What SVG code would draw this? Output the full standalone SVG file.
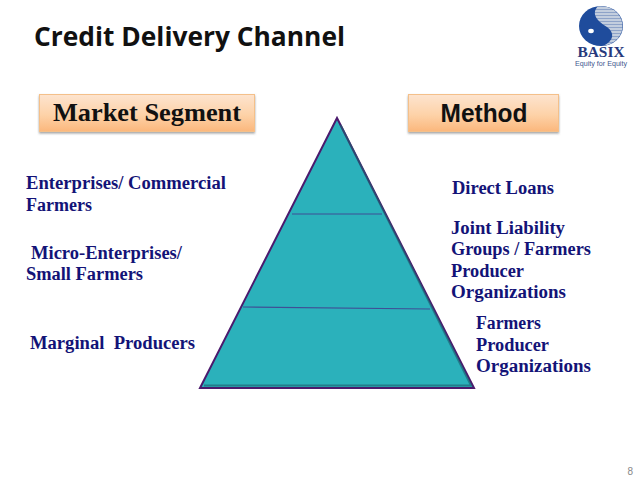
<svg xmlns="http://www.w3.org/2000/svg" width="638" height="478" viewBox="0 0 638 478">
<style>
.t{font-family:"Liberation Serif","Times New Roman",serif;font-weight:700;font-size:18px;fill:#131377}
.box{stroke:#f4c08a;stroke-width:1;filter:url(#sh)}
.div{stroke:#3f4f96;stroke-width:1.2;fill:none}
</style>
<defs>
<linearGradient id="g" x1="0" y1="0" x2="0" y2="1"><stop offset="0" stop-color="#fde4cf"/><stop offset=".55" stop-color="#fdd2a8"/><stop offset="1" stop-color="#fbb77c"/></linearGradient>
<filter id="sh" x="-5%" y="-10%" width="110%" height="130%"><feDropShadow dx="0" dy="1.5" stdDeviation="1.2" flood-color="#555" flood-opacity=".55"/></filter>
<pattern id="st" width="4" height="3" patternUnits="userSpaceOnUse"><rect width="4" height="3" fill="#c3cede"/><rect width="4" height="1" fill="#8ea3c8"/></pattern>
</defs>
<rect width="638" height="478" fill="#fff"/>
<text x="34" y="46" style="font-family:'Open Sans',Lato,sans-serif;font-weight:700;font-size:27px;fill:#111" textLength="311" lengthAdjust="spacingAndGlyphs">Credit Delivery Channel</text>
<g id="logo">
<ellipse cx="601" cy="26" rx="22" ry="20" fill="#1f4c9c"/>
<path d="M598 6.100A22 20 0 0 1 603 45.900C614 41 615 33 607 27C599 22 590 15 598 6.100Z" fill="url(#st)"/>
<ellipse cx="591" cy="31" rx="2.800" ry="2.200" fill="#fff"/>
<text x="601" y="57" text-anchor="middle" style="font-family:'Liberation Serif',serif;font-weight:700;font-size:14px;fill:#27397c" textLength="47" lengthAdjust="spacingAndGlyphs">BASIX</text>
<text x="601" y="65.500" text-anchor="middle" style="font-family:'Liberation Sans',sans-serif;font-size:7.500px;fill:#44598f" textLength="52" lengthAdjust="spacingAndGlyphs">Equity for Equity</text>
</g>
<g id="market-segment">
<rect class="box" x="39.500" y="94.500" width="215" height="37" fill="url(#g)"/>
<text x="147" y="121" text-anchor="middle" style="font-family:'Liberation Serif',serif;font-weight:700;font-size:26px;fill:#111" textLength="188" lengthAdjust="spacingAndGlyphs">Market Segment</text>
</g>
<g id="method">
<rect class="box" x="408.500" y="94.500" width="150" height="37" fill="url(#g)"/>
<text x="484" y="122" text-anchor="middle" style="font-family:'Liberation Sans',sans-serif;font-weight:700;font-size:25px;fill:#111" textLength="87" lengthAdjust="spacingAndGlyphs">Method</text>
</g>
<g id="pyramid">
<path d="M337 118L474 388H200Z" fill="#2bb1bb" stroke="#4b1a6d" stroke-width="2" stroke-linejoin="miter"/>
<path d="M340.500 125L471 385.500H204" fill="none" stroke="#1d5f72" stroke-width="2" opacity=".65"/>
</g>
<g id="connectors">
<path class="div" d="M292 214H382"/>
<path class="div" d="M243 307L430 309"/>
</g>
<g id="left-labels">
<text class="t" x="26" y="189" textLength="200" lengthAdjust="spacingAndGlyphs">Enterprises/ Commercial</text>
<text class="t" x="26" y="211" textLength="66" lengthAdjust="spacingAndGlyphs">Farmers</text>
<text class="t" x="31" y="259" textLength="151" lengthAdjust="spacingAndGlyphs">Micro-Enterprises/</text>
<text class="t" x="26" y="280" textLength="117" lengthAdjust="spacingAndGlyphs">Small Farmers</text>
<text class="t" x="30" y="349" textLength="165" lengthAdjust="spacingAndGlyphs" xml:space="preserve">Marginal  Producers</text>
</g>
<g id="right-labels">
<text class="t" x="452" y="194" textLength="102" lengthAdjust="spacingAndGlyphs">Direct Loans</text>
<text class="t" x="451" y="234" textLength="114" lengthAdjust="spacingAndGlyphs">Joint Liability</text>
<text class="t" x="451" y="255" textLength="140" lengthAdjust="spacingAndGlyphs">Groups / Farmers</text>
<text class="t" x="451" y="277" textLength="73" lengthAdjust="spacingAndGlyphs">Producer</text>
<text class="t" x="451" y="298" textLength="115" lengthAdjust="spacingAndGlyphs">Organizations</text>
<text class="t" x="476" y="329" textLength="65" lengthAdjust="spacingAndGlyphs">Farmers</text>
<text class="t" x="476" y="351" textLength="73" lengthAdjust="spacingAndGlyphs">Producer</text>
<text class="t" x="476" y="372" textLength="115" lengthAdjust="spacingAndGlyphs">Organizations</text>
</g>
<text x="633" y="475" text-anchor="end" style="font-family:'Liberation Sans',sans-serif;font-size:10px;fill:#888">8</text>
</svg>
